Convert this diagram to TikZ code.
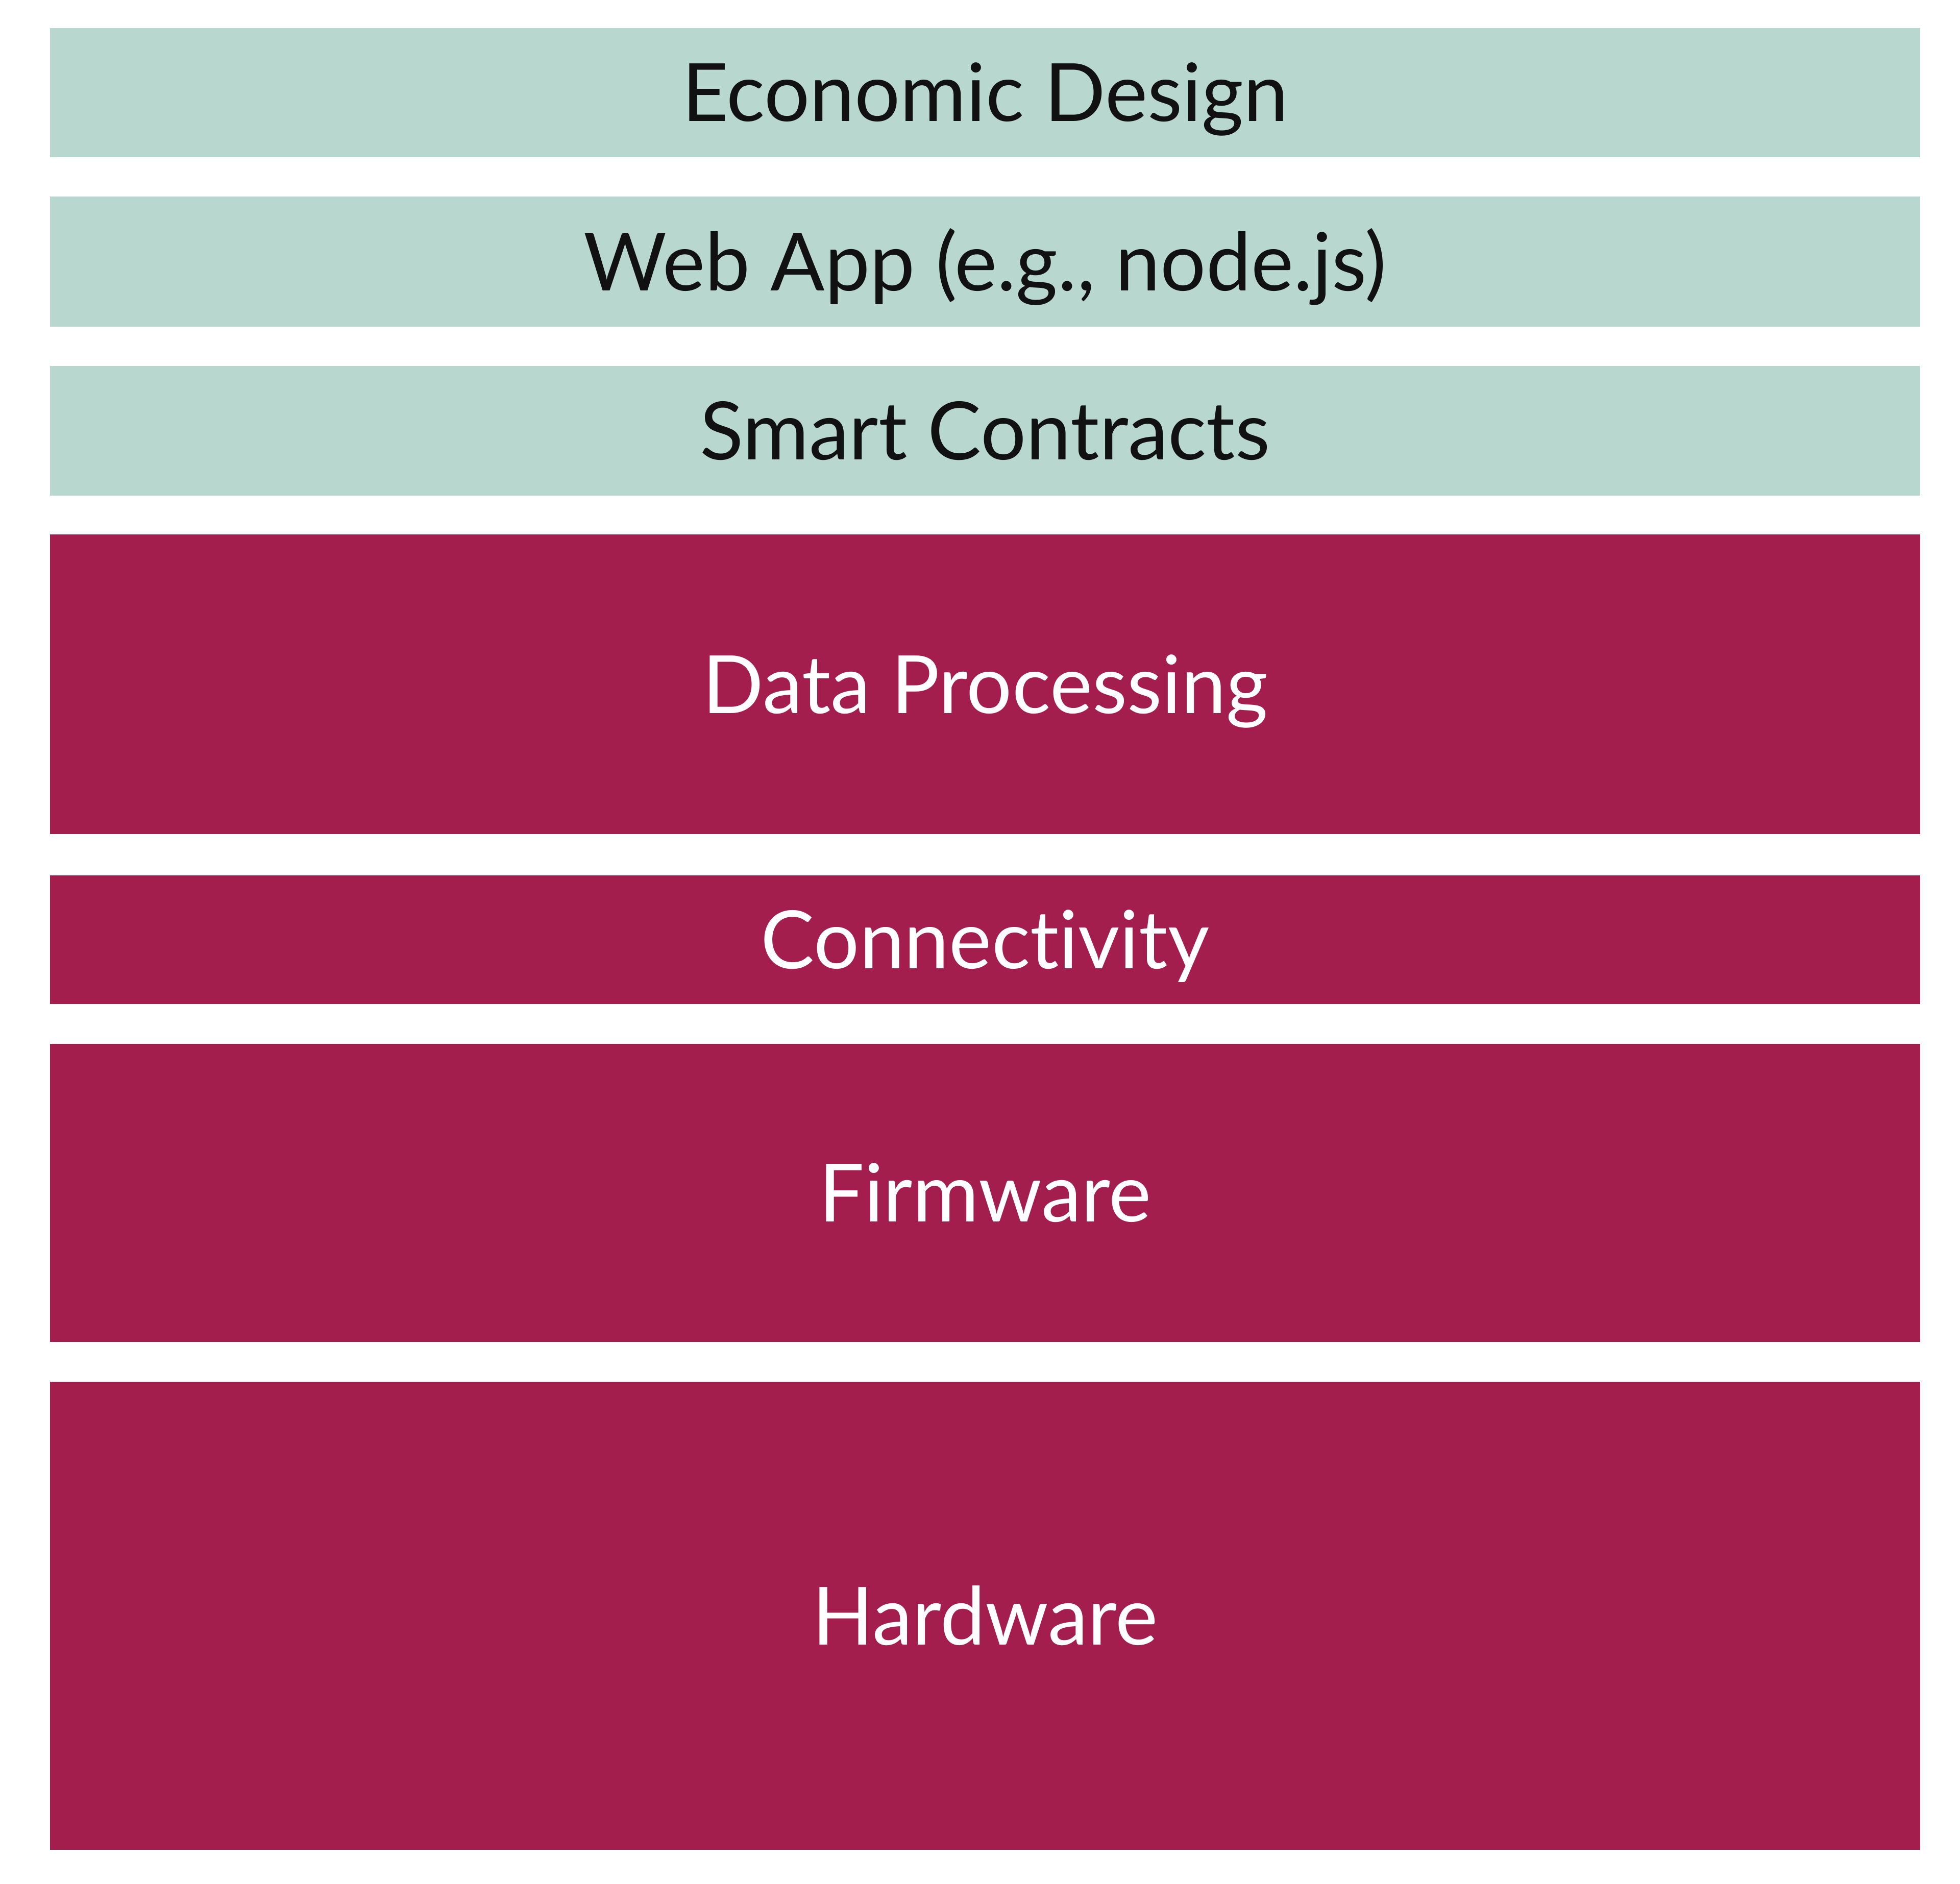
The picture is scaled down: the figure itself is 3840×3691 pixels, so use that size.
\documentclass[tikz,border=0pt]{standalone}
\usepackage{fontspec}
\setmainfont[Ligatures=NoCommon]{Lato}
\definecolor{tealbar}{HTML}{B8D7CE}
\definecolor{crimsonbar}{HTML}{A31E4D}
\definecolor{darktext}{HTML}{111111}
\begin{document}
\begin{tikzpicture}[x=0.2pt,y=-0.2pt,
  upper/.style={fill=tealbar,draw=none},
  lower/.style={fill=crimsonbar,draw=none},
  uppertext/.style={text=darktext,font=\fontsize{31.5}{36}\selectfont,anchor=base,inner sep=0pt},
  lowertext/.style={text=white,font=\fontsize{31.5}{36}\selectfont,anchor=base,inner sep=0pt}]
\useasboundingbox (0,0) rectangle (3840,3691);
\fill[white] (0,0) rectangle (3840,3691);
% bars
\path[upper] (98,55) rectangle (3762,308);
\path[upper] (98,385) rectangle (3762,640);
\path[upper] (98,717) rectangle (3762,971);
\path[lower] (98,1047) rectangle (3762,1634);
\path[lower] (98,1715) rectangle (3762,1967);
\path[lower] (98,2045) rectangle (3762,2629);
\path[lower] (98,2707) rectangle (3762,3624);
% labels (baseline = bar centre + cap height/2)
\node[uppertext] (econ) at (1930,238) {Economic Design};
\node[uppertext] (web) at (1930,569) {Web App (e.g., node.js)};
\node[uppertext] (smart) at (1930,900) {Smart Contracts};
\node[lowertext] (data) at (1930,1397) {Data Processing};
\node[lowertext] (conn) at (1930,1897) {Connectivity};
\node[lowertext] (firm) at (1930,2393) {Firmware};
\node[lowertext] (hard) at (1930,3222) {Hardware};
\end{tikzpicture}
\end{document}
